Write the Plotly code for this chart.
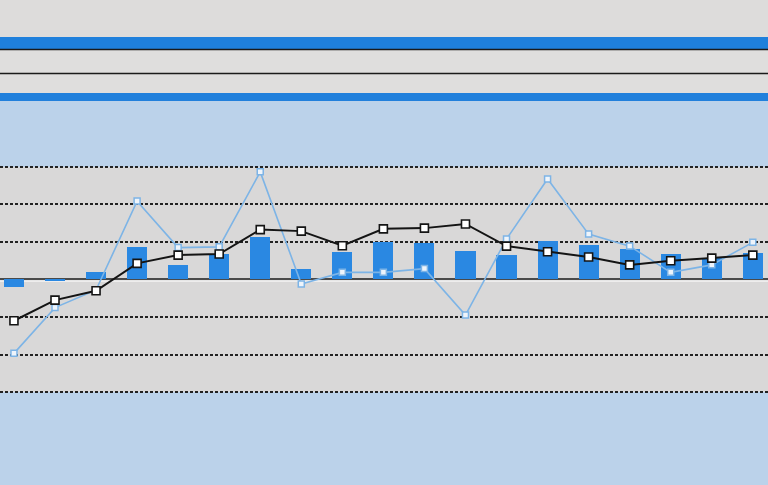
import plotly.graph_objects as go

categories = [1, 2, 3, 4, 5, 6, 7, 8, 9, 10, 11, 12, 13, 14, 15, 16, 17, 18, 19]
bar_values = [-0.19, -0.05, 0.19, 0.87, 0.39, 0.68, 1.13, 0.28, 0.73, 0.99,
              0.96, 0.76, 0.64, 1.03, 0.91, 0.82, 0.68, 0.58, 0.71]
dark_line = [-1.1, -0.55, -0.3, 0.43, 0.65, 0.68, 1.33, 1.29, 0.9, 1.35,
             1.37, 1.48, 0.89, 0.74, 0.6, 0.39, 0.5, 0.57, 0.65]
light_line = [-1.97, -0.75, -0.28, 2.09, 0.85, 0.87, 2.87, -0.12, 0.19, 0.19,
              0.29, -0.95, 1.08, 2.68, 1.21, 0.89, 0.19, 0.39, 0.99]
grid_vals = [-3, -2, -1, 1, 2, 3]

H = 485.0
def py(px):
    return 1 - px / H

fig = go.Figure()
fig.add_trace(go.Bar(x=categories, y=bar_values, width=0.49,
                     marker=dict(color="#2a88e2", line=dict(width=0))))
fig.add_trace(go.Scatter(x=categories, y=light_line, mode="lines+markers",
                         line=dict(color="#7db4e6", width=1.6),
                         marker=dict(symbol="square", size=6, color="#eef4fb",
                                     line=dict(color="#7db4e6", width=1.5))))
fig.add_trace(go.Scatter(x=categories, y=dark_line, mode="lines+markers",
                         line=dict(color="#141414", width=2),
                         marker=dict(symbol="square", size=8, color="#ffffff",
                                     line=dict(color="#141414", width=1.6))))

shapes = [
    dict(type="rect", xref="paper", yref="paper", x0=0, x1=1, y0=py(37), y1=1,
         fillcolor="#dddcdb", line_width=0, layer="below"),
    dict(type="rect", xref="paper", yref="paper", x0=0, x1=1, y0=py(49), y1=py(37),
         fillcolor="#1f80dc", line_width=0, layer="below"),
    dict(type="rect", xref="paper", yref="paper", x0=0, x1=1, y0=py(93), y1=py(49),
         fillcolor="#dfdedd", line_width=0, layer="below"),
    dict(type="line", xref="paper", yref="paper", x0=0, x1=1, y0=py(49.5), y1=py(49.5),
         line=dict(color="#1a1a1a", width=1.5), layer="below"),
    dict(type="line", xref="paper", yref="paper", x0=0, x1=1, y0=py(73.5), y1=py(73.5),
         line=dict(color="#1a1a1a", width=1.5), layer="below"),
    dict(type="rect", xref="paper", yref="paper", x0=0, x1=1, y0=py(101), y1=py(93),
         fillcolor="#2180dc", line_width=0, layer="below"),
    dict(type="rect", xref="paper", yref="y", x0=0, x1=1, y0=-3, y1=3,
         fillcolor="#d9d8d8", line_width=0, layer="below"),
    dict(type="line", xref="paper", yref="y", x0=0, x1=1, y0=-0.045, y1=-0.045,
         line=dict(color="#f4f4f4", width=1.2), layer="below"),
]

fig.update_layout(
    width=768, height=485,
    margin=dict(l=0, r=0, t=0, b=0),
    paper_bgcolor="#bbd2ea", plot_bgcolor="rgba(0,0,0,0)",
    showlegend=False, shapes=shapes, bargap=0,
    xaxis=dict(range=[0.66, 19.37], showgrid=False, zeroline=False,
               showticklabels=False, ticks="", fixedrange=True),
    yaxis=dict(range=[-5.48, 7.453], tickvals=grid_vals, showticklabels=False,
               showgrid=True, gridcolor="#222222", gridwidth=1.5, griddash="3px,2px",
               zeroline=True, zerolinecolor="#4a4a4a", zerolinewidth=2, ticks=""),
)

fig.write_html("out.html", config={"displayModeBar": False},
               post_script="document.body.style.margin='0px';document.body.style.overflow='hidden';")
